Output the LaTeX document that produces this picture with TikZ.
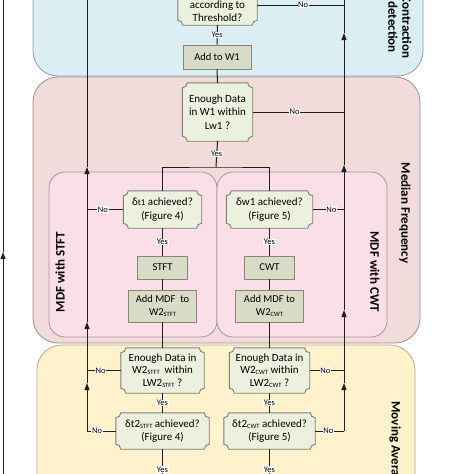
\documentclass[tikz,border=0pt]{standalone}
\usepackage{fontspec}
\setmainfont{Carlito}
\usetikzlibrary{arrows.meta,calc}
\pgfdeclarelayer{bg}
\pgfdeclarelayer{mid}
\pgfsetlayers{bg,mid,main}
\definecolor{blueF}{HTML}{DAEEF3}
\definecolor{blueB}{HTML}{8E9CA1}
\definecolor{pinkF}{HTML}{F2DCDB}
\definecolor{pinkB}{HTML}{A08C8B}
\definecolor{inF}{HTML}{FADFE8}
\definecolor{inB}{HTML}{A8949A}
\definecolor{yelF}{HTML}{FFF2CC}
\definecolor{yelB}{HTML}{B8AC8C}
\definecolor{decF}{HTML}{EBF1DE}
\definecolor{decB}{HTML}{7F7F72}
\definecolor{procF}{HTML}{D8DCC6}
\definecolor{procB}{HTML}{85877A}
\definecolor{lineC}{HTML}{1E1E1E}
\newcommand\plq[1]{%
  \path[fill=decF,draw=decB,line width=0.9pt]
    ($(#1.north west)+(5pt,0pt)$) -- ($(#1.north east)+(-5pt,0pt)$)
    arc[start angle=180,end angle=270,radius=5pt]
    -- ($(#1.south east)+(0pt,5pt)$)
    arc[start angle=90,end angle=180,radius=5pt]
    -- ($(#1.south west)+(5pt,0pt)$)
    arc[start angle=0,end angle=90,radius=5pt]
    -- ($(#1.north west)+(0pt,-5pt)$)
    arc[start angle=270,end angle=360,radius=5pt] -- cycle;}
\newcommand\sbs[1]{\raisebox{-0.2ex}{\fontsize{6.5pt}{7pt}\selectfont #1}}
\begin{document}
\begin{tikzpicture}[x=1pt,y=-1pt,
  dec/.style={inner sep=0pt,align=center,font=\fontsize{11pt}{13.5pt}\selectfont},
  decw/.style={inner sep=0pt,align=center,font=\fontsize{11pt}{12.7pt}\selectfont},
  proc/.style={draw=procB,fill=procF,line width=0.9pt,inner sep=0pt,align=center,font=\fontsize{10.5pt}{13pt}\selectfont},
  flow/.style={draw=lineC,line width=1pt},
  upar/.style={flow,-{Triangle[width=5pt,length=7pt]}},
  lbl/.style={fill=white,inner sep=0.6pt,font=\fontsize{8.5pt}{9pt}\selectfont},
  reglbl/.style={align=center,font=\fontsize{13pt}{14pt}\bfseries\selectfont}]
\useasboundingbox (0,0) rectangle (474,474);
% regions
\begin{pgfonlayer}{bg}
\fill[white] (0,0) rectangle (474,474);
\path[fill=blueF,draw=blueB,line width=0.8pt,rounded corners=25pt] (33,-40) rectangle (423,76);
\path[fill=pinkF,draw=pinkB,line width=0.8pt,rounded corners=25pt] (33,77) rectangle (420,343);
\path[fill=inF,draw=inB,line width=0.8pt,rounded corners=16pt] (49,172) rectangle (217,337);
\path[fill=inF,draw=inB,line width=0.8pt,rounded corners=16pt] (217,172) rectangle (387,337);
\path[fill=yelF,draw=yelB,line width=0.8pt,rounded corners=25pt] (37,345) rectangle (415,540);
\end{pgfonlayer}
% region labels
\node[reglbl,rotate=-90] (lblCD) at (400,27) {Contraction\\detection};
\node[reglbl,rotate=-90] (lblMF) at (405,213) {Median Frequency};
\node[reglbl,rotate=90] (lblMS) at (60,272) {MDF with STFT};
\node[reglbl,rotate=-90] (lblMC) at (375,272) {MDF with CWT};
\node[reglbl,rotate=-90,anchor=west] (lblMA) at (395,398) {Moving Average};
% nodes
\node[dec,minimum width=79pt,minimum height=40pt] (d0) at (217.5,5) {};
\node[dec] (d0t) at (217.5,11) {according to\\Threshold?};
\node[proc,minimum width=68pt,minimum height=24pt] (w1) at (217,57) {Add to W1};
\node[dec,minimum width=70pt,minimum height=58pt] (dW1) at (217.5,112) {Enough Data\\in W1 within\\Lw1 ?};
\node[dec,minimum width=78pt,minimum height=37pt] (dt1) at (162.5,209.5) {δ{\fontsize{9pt}{10pt}\selectfont t1} achieved?\\(Figure 4)};
\node[dec,minimum width=86pt,minimum height=37pt] (dw1) at (269.5,209.5) {δw1 achieved?\\(Figure 5)};
\node[proc,minimum width=50pt,minimum height=23pt] (stft) at (162.5,267.5) {STFT};
\node[proc,minimum width=50pt,minimum height=23pt] (cwt) at (269.5,267.5) {CWT};
\node[proc,minimum width=68pt,minimum height=32pt] (mdfS) at (162.5,306) {Add MDF~ to\\W2\sbs{STFT}};
\node[proc,minimum width=68pt,minimum height=32pt] (mdfC) at (269.5,306) {Add MDF to\\W2\sbs{CWT}};
\node[decw,minimum width=83pt,minimum height=45pt] (dW2S) at (162.5,370.5) {Enough Data in\\W2\sbs{STFT}~ within\\LW2\sbs{STFT} ?};
\node[decw,minimum width=80pt,minimum height=45pt] (dW2C) at (269.5,370.5) {Enough Data in\\W2\sbs{CWT} within\\LW2\sbs{CWT} ?};
\node[dec,minimum width=93pt,minimum height=36pt] (dt2S) at (162.5,431) {δt2\sbs{STFT} achieved?\\(Figure 4)};
\node[dec,minimum width=91pt,minimum height=36pt] (dt2C) at (269.5,431) {δt2\sbs{CWT} achieved?\\(Figure 5)};
\begin{pgfonlayer}{mid}
\plq{d0}\plq{dW1}\plq{dt1}\plq{dw1}\plq{dW2S}\plq{dW2C}\plq{dt2S}\plq{dt2C}
\end{pgfonlayer}
% coordinates
\coordinate (L) at (87,0);
\coordinate (R) at (344,0);
\coordinate (j) at (216,167);
\coordinate (bS) at (162.5,480);
\coordinate (bC) at (269.5,480);
\coordinate (La1) at (87,383);
\coordinate (La2) at (87,322);
\coordinate (La3) at (87,167);
\coordinate (Ltop) at (87,-10);
\coordinate (Ra1) at (344,383);
\coordinate (Ra2) at (344,310);
\coordinate (Ra3) at (344,165);
\coordinate (Ra4) at (344,33);
\coordinate (Rtop) at (344,-10);
\coordinate (B1) at (3,480);
\coordinate (Ba) at (3,252);
\coordinate (Btop) at (3,-10);
% main flow
\draw[flow] (d0.south) -- node[lbl]{Yes} (w1.north);
\draw[flow] (w1.south) -- (dW1.north);
\draw[flow] (dW1.south) -- node[lbl,pos=0.5]{Yes} (j);
\draw[flow] (dt1.north) |- (j) -| (dw1.north);
\draw[flow] (dt1.south) -- node[lbl]{Yes} (stft.north);
\draw[flow] (dw1.south) -- node[lbl]{Yes} (cwt.north);
\draw[flow] (stft.south) -- (mdfS.north);
\draw[flow] (cwt.south) -- (mdfC.north);
\draw[flow] (mdfS.south) -- (dW2S.north);
\draw[flow] (mdfC.south) -- (dW2C.north);
\draw[flow] (dW2S.south) -- node[lbl]{Yes} (dt2S.north);
\draw[flow] (dW2C.south) -- node[lbl]{Yes} (dt2C.north);
\draw[flow] (dt2S.south) -- node[lbl,pos=0.66]{Yes} (bS);
\draw[flow] (dt2C.south) -- node[lbl,pos=0.66]{Yes} (bC);
% No branches
\draw[flow] (d0.east) -- node[lbl,pos=0.53]{No} (d0.east -| R);
\draw[flow] (dW1.east) -- node[lbl,pos=0.46]{No} (dW1.east -| R);
\draw[flow] (dt1.west) -- node[lbl,pos=0.56]{No} (dt1.west -| L);
\draw[flow] (dw1.east) -- node[lbl,pos=0.6]{No} (dw1.east -| R);
\draw[flow] (dW2S.west) -- node[lbl,pos=0.6]{No} (dW2S.west -| L);
\draw[flow] (dW2C.east) -- node[lbl,pos=0.46]{No} (dW2C.east -| R);
\draw[flow] (dt2S.west) -- node[lbl,pos=0.65]{No} (dt2S.west -| L) coordinate (Lb);
\draw[flow] (dt2C.east) -- node[lbl,pos=0.46]{No} (dt2C.east -| R) coordinate (Rb);
% return lines
\draw[upar] (Lb) -- (La1);
\draw[upar] (La1) -- (La2);
\draw[upar] (La2) -- (La3);
\draw[flow] (La3) -- (Ltop);
\draw[upar] (Rb) -- (Ra1);
\draw[upar] (Ra1) -- (Ra2);
\draw[upar] (Ra2) -- (Ra3);
\draw[upar] (Ra3) -- (Ra4);
\draw[flow] (Ra4) -- (Rtop);
\draw[upar] (B1) -- (Ba);
\draw[flow] (Ba) -- (Btop);
\end{tikzpicture}
\end{document}
